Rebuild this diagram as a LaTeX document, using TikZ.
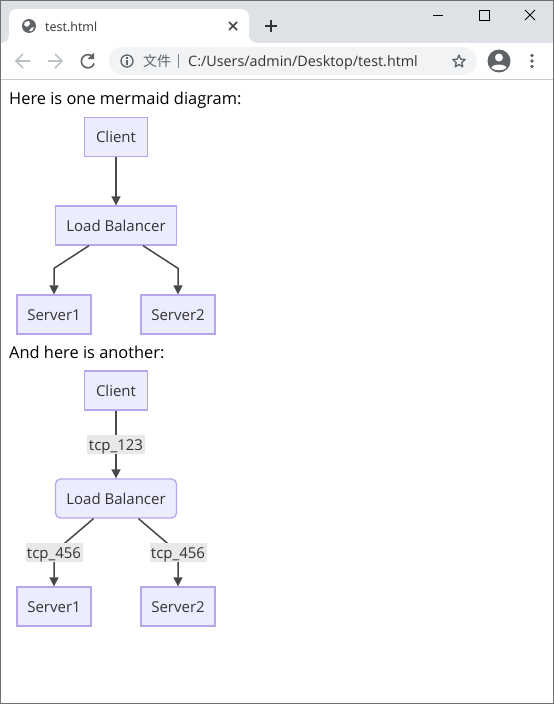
\documentclass[tikz,border=0pt]{standalone}
\usepackage{fontspec}
\setmainfont{Open Sans}
\newfontfamily\cjkf{Noto Sans CJK SC}
\usetikzlibrary{arrows.meta,calc}
\definecolor{bar}{HTML}{DEE1E6}
\definecolor{omni}{HTML}{F1F3F4}
\definecolor{icon}{HTML}{5F6368}
\definecolor{icoff}{HTML}{BDC1C6}
\definecolor{frame}{HTML}{707070}
\definecolor{nfill}{HTML}{ECECFF}
\definecolor{nline}{HTML}{B9A6EA}
\definecolor{ink}{HTML}{333333}
\definecolor{lab}{HTML}{E8E8E8}
\tikzset{
 flow/.style={draw=nline,fill=nfill,line width=1.3pt,text=ink,font=\fontsize{15}{18}\selectfont,minimum height=39pt,inner sep=0pt,anchor=center,text height=13.2pt,text depth=2.2pt},
 edge/.style={draw=ink!90,line width=1.5pt,-{Triangle[length=9pt,width=9pt]}},
 elabel/.style={fill=lab,text=ink,font=\fontsize{15}{18}\selectfont,inner sep=0pt,minimum height=19pt,text height=13.5pt,text depth=2pt},
 para/.style={anchor=base west,font=\fontsize{16.4}{20}\selectfont,text=black,inner sep=0pt},
 ui/.style={anchor=base west,inner sep=0pt},
 stk/.style={draw=icon,line width=1.6pt},
}
\begin{document}
\begin{tikzpicture}[x=1pt,y=-1pt]
\useasboundingbox (0,0) rectangle (554,704);
\fill[white] (0,0) rectangle (554,704);
% chrome
\fill[bar] (0,0) rectangle (554,43);
\fill[white] (0,43) rectangle (554,79);
\fill[white] (1,43) to[out=0,in=-90] (9,35) -- (9,17) to[out=90,in=180] (17,9) -- (241,9) to[out=0,in=90] (249,17) -- (249,35) to[out=-90,in=180] (257,43) -- cycle;
\draw[line width=1pt,draw=bar!90!black] (0,79.5) -- (554,79.5);
\fill[omni,rounded corners=14pt] (109,47) rectangle (477,75);
% tab
\fill[icon] (29,26) circle (7);
\fill[white] (25,22) -- (29,21) -- (30,24) -- (27,27) -- (24,25) -- cycle;
\fill[white] (31,28) -- (34,27) -- (32,31) -- (29,31) -- cycle;
\node[ui,font=\fontsize{12.5}{15}\selectfont,text=ink] (tabt) at (45,31) {test.html};
\draw[icon!70!black,line width=1.5pt] (229,22) -- (237,30) (237,22) -- (229,30);
\draw[ink,line width=1.5pt] (265,26) -- (277,26) (271,20) -- (271,32);
% window controls
\draw[black,line width=1pt] (433,15.5) -- (443,15.5);
\draw[black,line width=1pt] (479.5,10.5) rectangle (489.5,20.5);
\draw[black,line width=1pt] (525,10) -- (535,20) (535,10) -- (525,20);
% nav
\draw[icoff,line width=1.6pt] (30,61) -- (16,61) (23,54) -- (16,61) -- (23,68);
\draw[icoff,line width=1.6pt] (48,61) -- (62,61) (55,54) -- (62,61) -- (55,68);
\draw[stk] (93,57) arc (-40:-340:6.6);
\fill[icon] (94,52.5) -- (94,59) -- (87.5,59) -- cycle;
% omnibox
\draw[icon,line width=1.3pt] (127,61) circle (6);
\fill[icon] (126.2,60) rectangle (127.8,64.5);
\fill[icon] (126.2,57.2) rectangle (127.8,58.8);
\node[ui,font=\cjkf\fontsize{14}{16}\selectfont,text=icon] (fileL) at (143,66) {文件};
\draw[icon!80,line width=1pt] (178.5,54) -- (178.5,68);
\node[ui,font=\fontsize{14.35}{17}\selectfont,text=ink] (url) at (188,66) {C:/Users/admin/Desktop/test.html};
\draw[icon,line width=1.3pt,line join=round] (459,55.0) -- (460.7,59.1) -- (465.2,59.5) -- (461.8,62.4) -- (462.8,66.8) -- (459,64.5) -- (455.2,66.8) -- (456.2,62.4) -- (452.8,59.5) -- (457.3,59.1) -- cycle;
\fill[icon] (499,61) circle (11.5);
\fill[white] (499,57.5) circle (4);
\fill[white] (491.5,68) .. controls (492,63.5) and (506,63.5) .. (506.5,68) .. controls (503,71) and (495,71) .. (491.5,68) -- cycle;
\foreach \yy in {55.5,61,66.5} \fill[icon] (532,\yy) circle (1.8);
% paragraph text
\node[para] (p1) at (9,104.5) {Here is one mermaid diagram:};
\node[para] (p2) at (9,358.5) {And here is another:};
% diagram 1
\node[flow,minimum width=63pt] (c1) at (116,137) {Client};
\node[flow,minimum width=121pt] (lb1) at (116,225.5) {Load Balancer};
\node[flow,minimum width=74pt] (s11) at (54,314.5) {Server1};
\node[flow,minimum width=74pt] (s12) at (178,314.5) {Server2};
\draw[edge] (c1.south) -- (lb1.north);
\draw[edge] ($(lb1.south)+(-27,0)$) -- ($(s11.north)+(0,-26)$) -- (s11.north);
\draw[edge] ($(lb1.south)+(27,0)$) -- ($(s12.north)+(0,-26)$) -- (s12.north);
% diagram 2
\node[flow,minimum width=63pt] (c2) at (116,390.5) {Client};
\node[flow,minimum width=121pt,rounded corners=5pt] (lb2) at (116,498.5) {Load Balancer};
\node[flow,minimum width=74pt] (s21) at (54,606.5) {Server1};
\node[flow,minimum width=74pt] (s22) at (178,606.5) {Server2};
\draw[edge] (c2.south) -- (lb2.north);
\draw[edge] ($(lb2.south)+(-22.5,0)$) -- ($(s21.north)+(0,-34)$) -- (s21.north);
\draw[edge] ($(lb2.south)+(22.5,0)$) -- ($(s22.north)+(0,-34)$) -- (s22.north);
\node[elabel,minimum width=58pt] (l1) at (116,444.5) {tcp\_123};
\node[elabel,minimum width=57pt] (l2) at (54,552.5) {tcp\_456};
\node[elabel,minimum width=57pt] (l3) at (178,552.5) {tcp\_456};
% frame
\draw[frame,line width=1pt] (0.5,0.5) rectangle (553.5,703.5);
\end{tikzpicture}
\end{document}
